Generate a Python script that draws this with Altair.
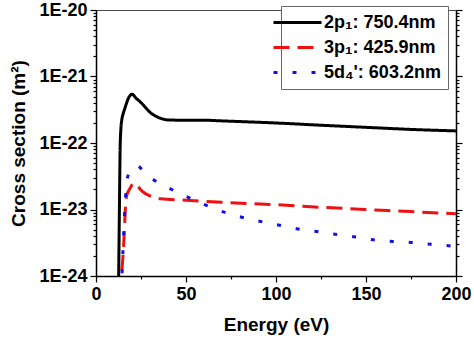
import altair as alt
import pandas as pd

# ---- data ----
series_names = ["2p\u2081: 750.4nm", "3p\u2081: 425.9nm", "5d\u2084': 603.2nm"]

e_2p1 = [12.6, 13.0, 13.4, 13.8, 14.3, 15, 16, 17, 18, 19, 20, 21, 22, 24, 26, 28, 30, 33, 36, 40,
         50, 60, 70, 80, 100, 125, 150, 175, 200]
cs_2p1 = [1e-24, 1e-23, 8e-23, 1.6e-22, 2.2e-22, 2.7e-22, 3.3e-22, 4.0e-22, 4.7e-22, 5.2e-22, 5.4e-22,
          5.2e-22, 4.8e-22, 4.3e-22, 3.8e-22, 3.3e-22, 2.9e-22, 2.55e-22, 2.35e-22, 2.22e-22,
          2.2e-22, 2.2e-22, 2.15e-22, 2.1e-22, 2.0e-22, 1.85e-22, 1.72e-22, 1.6e-22, 1.52e-22]

e_3p1 = [14.3, 15.0, 15.7, 16.3, 17, 19, 21, 23, 26, 30, 36, 50, 70, 100, 125, 150, 175, 200]
cs_3p1 = [1.2e-24, 2.0e-24, 4.4e-24, 1.0e-23, 1.6e-23, 2.1e-23, 2.5e-23, 2.25e-23, 1.85e-23, 1.6e-23,
          1.45e-23, 1.38e-23, 1.28e-23, 1.18e-23, 1.08e-23, 1.0e-23, 9.3e-24, 8.6e-24]

e_5d4 = [14.5, 15.0, 15.5, 16.0, 16.8, 18, 19, 21, 23, 26, 32, 39, 48, 58, 67, 76, 86, 95, 105, 114,
         124, 134, 143, 154, 165, 175, 186, 198, 200]
cs_5d4 = [1.1e-24, 2.5e-24, 5e-24, 1.0e-23, 2.2e-23, 3.4e-23, 3.9e-23, 4.4e-23, 4.5e-23, 3.9e-23,
          2.8e-23, 2.2e-23, 1.67e-23, 1.26e-23, 1.0e-23, 8.3e-24, 7.1e-24, 6.3e-24, 5.6e-24, 5.0e-24,
          4.6e-24, 4.2e-24, 3.9e-24, 3.5e-24, 3.3e-24, 3.2e-24, 3.0e-24, 2.8e-24, 2.75e-24]

x_ticks = [0, 25, 50, 75, 100, 125, 150, 175, 200]
y_ticks = [m * 10.0 ** d for d in range(-24, -20) for m in range(1, 10)] + [1e-20]

rows = []
for name, es, cs in zip(series_names, [e_2p1, e_3p1, e_5d4], [cs_2p1, cs_3p1, cs_5d4]):
    for i, (e, c) in enumerate(zip(es, cs)):
        rows.append({"series": name, "energy": e, "cs": c, "order": i})
df = pd.DataFrame(rows)

FONT = "Liberation Sans"
major_y = "abs(log(datum.value)/LN10 - round(log(datum.value)/LN10)) < 0.01"

x_axis = alt.Axis(values=x_ticks, title="Energy (eV)",
                  labelExpr="datum.value % 50 === 0 ? datum.label : ''",
                  tickSize={"condition": {"test": "datum.value % 50 === 0", "value": 6}, "value": 3},
                  labelOverlap=False, labelFlush=False, grid=False, labelPadding=3, titlePadding=12)
x_scale = alt.Scale(domain=[0, 200], nice=False)
y_scale = alt.Scale(type="log", domain=[1e-24, 1e-20], nice=False)

lines = alt.Chart(df).mark_line(strokeWidth=3, clip=True, interpolate="monotone").encode(
    x=alt.X("energy:Q", scale=x_scale, axis=x_axis),
    y=alt.Y("cs:Q", scale=y_scale,
            axis=alt.Axis(values=y_ticks, title="Cross section (m\u00b2)",
                          labelExpr="(" + major_y + ") ? '1E' + round(log(datum.value)/LN10) : ''",
                          tickSize={"condition": {"test": major_y, "value": 6}, "value": 3},
                          labelOverlap=False, labelFlush=False, grid=False, labelPadding=3,
                          titlePadding=10)),
    color=alt.Color("series:N", sort=series_names,
                    scale=alt.Scale(domain=series_names, range=["#000000", "#f01010", "#1010e8"]),
                    legend=alt.Legend(title=None, orient="none", legendX=185, legendY=-4,
                                      symbolType="M-3,0H3", symbolSize=256, symbolStrokeWidth=3,
                                      labelFont=FONT, labelFontSize=18, labelFontWeight="bold",
                                      labelColor="#000", strokeColor="#666", fillColor="white",
                                      padding=7, rowPadding=6, labelOffset=17, labelLimit=300)),
    strokeDash=alt.StrokeDash("series:N", sort=series_names,
                              scale=alt.Scale(domain=series_names, range=[[1, 0], [16, 8], [4, 15]]),
                              legend=None),
    order="order:Q",
)

right_axis = alt.Chart(df).mark_line(opacity=0).encode(
    x=alt.X("energy:Q", scale=x_scale, axis=x_axis),
    y=alt.Y("cs:Q", scale=y_scale,
            axis=alt.Axis(orient="right", values=y_ticks, labels=False, title=None, grid=False,
                          tickSize={"condition": {"test": major_y, "value": 6}, "value": 3})),
    detail="series:N",
)

chart = alt.layer(lines, right_axis).resolve_axis(y="independent").properties(
    width=360, height=266,
    background="white",
    autosize=alt.AutoSizeParams(type="none"),
    padding={"left": 96, "top": 10, "right": 18, "bottom": 62},
).configure_view(stroke="#444", strokeWidth=1).configure_axis(
    labelFont=FONT, labelFontSize=18, labelFontWeight="bold", labelColor="#000",
    titleFont=FONT, titleFontSize=19, titleFontWeight="bold", titleColor="#000",
    domainColor="#000", domainWidth=1.5, tickColor="#000", tickWidth=1.2,
)

chart.save("out.html", embed_options={"renderer": "svg", "actions": False})
